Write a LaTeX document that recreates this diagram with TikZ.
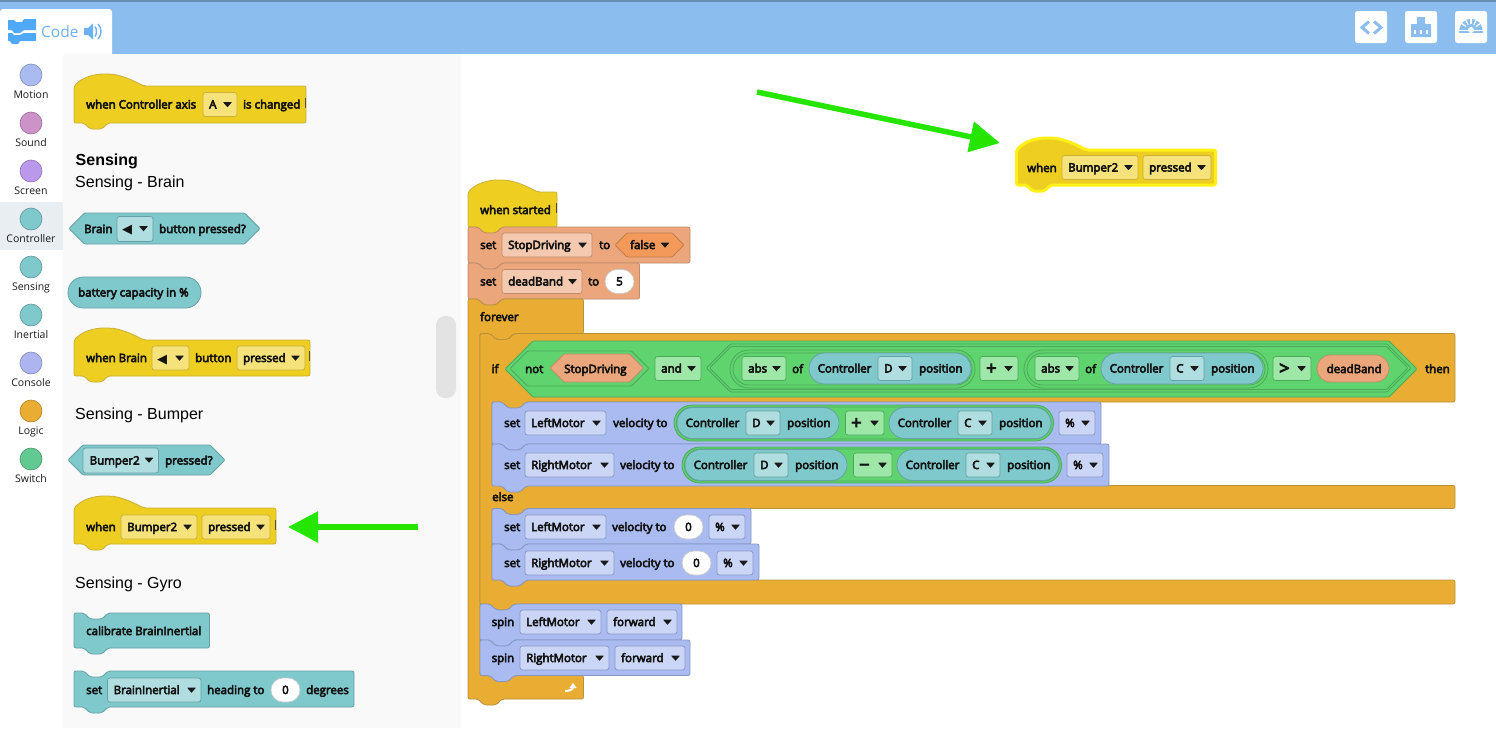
\documentclass[tikz,border=0pt]{standalone}
\usepackage{fontspec}
\setmainfont{Open Sans}
\newfontfamily\blockfont{Open Sans}[FakeBold=5]
\newfontfamily\headfont{Liberation Sans}
\newfontfamily\symfont{DejaVu Sans}
\usetikzlibrary{arrows.meta}

\definecolor{barblue}{HTML}{8BBDEF}
\definecolor{iconblue}{HTML}{4FA9F6}
\definecolor{codeblue}{HTML}{6CB0F5}
\definecolor{panelgray}{HTML}{F9F9F9}
\definecolor{selgray}{HTML}{E9EEF2}
\definecolor{arrowgreen}{HTML}{26E500}
\definecolor{glowyellow}{HTML}{FFF015}
\definecolor{yelfill}{HTML}{EDCE21}\definecolor{yelline}{HTML}{C9B03A}\definecolor{yelfield}{HTML}{F5E27B}
\definecolor{salfill}{HTML}{EBA67C}\definecolor{salline}{HTML}{BF8C6C}\definecolor{salfield}{HTML}{F4C9AF}
\definecolor{orgfill}{HTML}{F39A5B}\definecolor{orgline}{HTML}{C07D4C}
\definecolor{logfill}{HTML}{EAAD34}\definecolor{logline}{HTML}{B8913C}
\definecolor{blufill}{HTML}{A9BBF1}\definecolor{bluline}{HTML}{8797C4}\definecolor{blufield}{HTML}{CBD6F7}
\definecolor{teafill}{HTML}{7FC8CB}\definecolor{tealine}{HTML}{66A2A5}\definecolor{teafield}{HTML}{B0DDDF}
\definecolor{grefill}{HTML}{5FD46E}\definecolor{greline}{HTML}{4DA95A}\definecolor{grefield}{HTML}{9FE7A8}

\tikzset{
	block/.style={draw=#1line, fill=#1fill, line width=0.8pt, rounded corners=2pt},
	field/.style={draw=#1line, fill=#1field, line width=0.7pt, rounded corners=2.5pt},
	blocktext/.style={anchor=base west, inner sep=0pt, text=black!92, font=\blockfont\fontsize{11.5}{14}\selectfont},
	sidetext/.style={anchor=base, inner sep=0pt, text=black!90, font=\fontsize{10.5}{12}\selectfont},
	headtext/.style={anchor=base west, inner sep=0pt, text=black, font=\headfont\fontsize{16}{18}\selectfont},
	greenarrow/.style={draw=arrowgreen, line width=5.5pt, -{Triangle[length=30pt,width=30pt]}},
	iconbox/.style={fill=white, rounded corners=2.5pt},
}

\newcounter{lblno}
\newcommand{\lbl}[3]{\stepcounter{lblno}\node[blocktext] (lbl\arabic{lblno}) at (#1,#2+4) {#3};}
\newcommand{\notchR}[2]{-- (#1+10,#2) -- (#1+16,#2+6) -- (#1+28,#2+6) -- (#1+34,#2)}
\newcommand{\notchL}[2]{-- (#1+34,#2) -- (#1+28,#2+6) -- (#1+16,#2+6) -- (#1+10,#2)}
% x1,x2,y1,y2
\newcommand{\stack}[5]{\draw[block=#1] (#2,#4) \notchR{#2}{#4} -- (#3,#4) -- (#3,#5) \notchL{#2}{#5} -- (#2,#5) -- cycle;}
\newcommand{\hatblock}[5]{\draw[#1] (#2,#4) .. controls (#2+9,#4-9) and (#2+20,#4-12) .. (#2+32,#4-12)
	.. controls (#2+46,#4-12) and (#2+58,#4-6) .. (#2+70,#4) -- (#3,#4) -- (#3,#5) \notchL{#2}{#5} -- (#2,#5) -- cycle;}
\newcommand{\hatmark}[2]{\draw[black!70, line width=1pt] (#1,#2-5) -- (#1,#2+5);}
\newcommand{\ddarrow}[2]{\fill[black!90, rounded corners=0.4pt] (#1-4.4,#2-2.3) -- (#1+4.4,#2-2.3) -- (#1,#2+2.8) -- cycle;}
\newcommand{\dd}[5]{\draw[field=#1] (#2,#4-12) rectangle (#3,#4+12);
	\lbl{#2+6}{#4}{#5}\ddarrow{#3-9.5}{#4}}
\newcommand{\pill}[5]{\pgfmathsetmacro{\pillr}{((#5)-(#4))/2}
	\draw[block=#1, rounded corners=\pillr pt] (#2,#4) rectangle (#3,#5);}
\newcommand{\hexa}[5]{\pgfmathsetmacro{\hexh}{((#5)-(#4))/2}
	\draw[block=#1, rounded corners=1pt] (#2,#4+\hexh) -- (#2+\hexh,#4) -- (#3-\hexh,#4) -- (#3,#4+\hexh) -- (#3-\hexh,#5) -- (#2+\hexh,#5) -- cycle;}
\newcommand{\numoval}[4]{\draw[draw=black!20, fill=white, line width=0.7pt, rounded corners=12pt] (#1,#3-12) rectangle (#2,#3+12);
	\lbl{#1+11}{#3}{#4}}
\newcommand{\controller}[3]{% x of pill, centre y, axis letter
	\pill{tea}{#1}{#1+162}{#2-15.5}{#2+15.5}
	\lbl{#1+8.5}{#2}{Controller}
	\dd{tea}{#1+69}{#1+103}{#2}{#3}
	\lbl{#1+110}{#2}{position}}

\begin{document}
\begin{tikzpicture}[x=1pt,y=-1pt]
	\useasboundingbox (0,0) rectangle (1496,728);
	\fill[white] (0,0) rectangle (1496,728);
	% top bar
	\fill[barblue] (0,0) rectangle (1496,54);
	\fill[barblue!75!black] (0,0) rectangle (1496,1.5);
	\fill[white, rounded corners=3pt] (0,60) -- (0,9) -- (112,9) -- (112,60) -- cycle;
	\fill[iconblue, rounded corners=0.6pt] (8,20) -- (14,20) -- (16,22) -- (22,22) -- (24,19) -- (36,19) -- (36,30) -- (24,30) -- (20,33) -- (14,33) -- (12,30) -- (8,30) -- cycle;
	\fill[iconblue, rounded corners=0.6pt] (8,33) -- (12,33) -- (14,35) -- (20,35) -- (24,33) -- (36,33) -- (36,41) -- (20,41) -- (18,44) -- (12,44) -- (10,41) -- (8,41) -- cycle;
	\node[anchor=base west, inner sep=0pt, text=codeblue, font=\fontsize{15.5}{18}\selectfont] (codetab) at (41,37) {Code};
	\fill[codeblue] (84,28) -- (88,28) -- (93,23.5) -- (93,39.5) -- (88,35) -- (84,35) -- cycle;
	\draw[codeblue, line width=1.4pt] (95,26.5) .. controls (97,29) and (97,34) .. (95,36.5);
	\draw[codeblue, line width=1.4pt] (98,24) .. controls (102,28) and (102,35) .. (98,39);
	\fill[iconbox] (1355,11) rectangle (1387,43);
	\fill[iconbox] (1405,11) rectangle (1437,43);
	\fill[iconbox] (1455,11) rectangle (1487,43);
	\draw[barblue, line width=3pt] (1369,21.5) -- (1362,27.5) -- (1369,33.5);
	\draw[barblue, line width=3pt] (1374,21.5) -- (1381,27.5) -- (1374,33.5);
	\fill[barblue, rounded corners=0.5pt] (1411,24) -- (1417,24) -- (1417,17) -- (1425,17) -- (1425,24) -- (1431,24) -- (1431,37) -- (1411,37) -- cycle;
	\foreach \x in {1415,1421,1427}
		\fill[white] (\x-1,30) rectangle (\x+1,34);
	\fill[barblue] (1459,33) .. controls (1459,14) and (1483,14) .. (1483,33) -- cycle;
	\foreach \a in {35,62,90,118,145}
		\draw[white, line width=1.2pt] (1471+6*cos \a,30-6*sin \a) -- (1471+14*cos \a,30-14*sin \a);
	\fill[white] (1457,30) rectangle (1485,31);
	\fill[white] (1471,30) circle (3pt);

	% side list and palette
	\fill[panelgray] (63,54) rectangle (461,728);
	\fill[white] (0,54) rectangle (63,728);
	\fill[selgray] (0,202) rectangle (63,250);
	\fill[black!11, rounded corners=9pt] (436,316) rectangle (456,398);
	\foreach \name/\col [count=\i from 0] in {Motion/A9BBF1,Sound/CB93C8,Screen/BA99EC,Controller/7FC8CB,Sensing/7FC8CB,Inertial/7FC8CB,Console/ADB5F0,Logic/EAAD34,Switch/63C993}{
		\definecolor{catcol}{HTML}{\col}
		\draw[fill=catcol, draw=catcol!75!black, line width=0.6pt] (31,75+48*\i) circle (11pt);
		\node[sidetext] (cat\i) at (31,98+48*\i) {\name};
	}

	\hatblock{block=yel}{74}{306}{86}{123}
	\lbl{86}{104.5}{when Controller axis}
	\dd{yel}{203}{237}{104.5}{A}
	\lbl{243}{104.5}{is changed}
	\hatmark{305.5}{103}
	\node[headtext, font=\headfont\bfseries\fontsize{16}{18}\selectfont] (headsensing) at (75.5,165.5) {Sensing};
	\node[headtext] (headbrain) at (75,187) {Sensing - Brain};

	\hexa{tea}{69}{260}{213}{244}
	\lbl{84}{229}{Brain}
	\draw[field=tea] (117,216.5) rectangle (153,241.5);
	\node[blocktext, font=\symfont\fontsize{13}{14}\selectfont] (brainleft) at (122,233.5) {◀};
	\ddarrow{143.5}{228.5}
	\lbl{159}{229}{button pressed?}

	\pill{tea}{68}{201}{277}{308}
	\lbl{78}{292.5}{battery capacity in \%}

	\hatblock{block=yel}{74}{310}{340}{376}
	\lbl{86}{358}{when Brain}
	\draw[field=yel] (152,346) rectangle (189,370);
	\node[blocktext, font=\symfont\fontsize{13}{14}\selectfont] (whenleft) at (157,363) {◀};
	\ddarrow{179.5}{358}
	\lbl{195}{358}{button}
	\dd{yel}{237}{305}{358}{pressed}
	\hatmark{309.5}{356}
	\node[headtext] (headbumper) at (75,419) {Sensing - Bumper};

	\hexa{tea}{68}{225}{445}{475}
	\draw[field=tea] (83,448) rectangle (158.5,473);
	\lbl{89.5}{460.5}{Bumper2}
	\ddarrow{149}{460}
	\lbl{165}{460.5}{pressed?}

	\hatblock{block=yel}{74}{276}{508}{544}
	\lbl{86}{527}{when}
	\dd{yel}{121}{197}{527}{Bumper2}
	\dd{yel}{202}{270}{527}{pressed}
	\hatmark{275.5}{525}
	\node[headtext] (headgyro) at (75,588) {Sensing - Gyro};

	\stack{tea}{74}{209.5}{613}{648}
	\lbl{86}{631}{calibrate BrainInertial}
	\stack{tea}{74}{354}{671}{707}
	\lbl{86}{690}{set}
	\dd{tea}{107.5}{201}{690}{BrainInertial}
	\lbl{207}{690}{heading to}
	\numoval{271}{300}{690}{0}
	\lbl{306}{690}{degrees}

	% the copy on the workspace
	\hatblock{draw=glowyellow, fill=yelfill, line width=3pt, rounded corners=2pt}{1016.5}{1215.5}{150}{185}
	\lbl{1027}{168}{when}
	\dd{yel}{1062}{1138}{167.5}{Bumper2}
	\dd{yel}{1143}{1211}{167.5}{pressed}

	% program
	\hatblock{block=yel}{468}{557}{192}{227}
	\lbl{480}{210}{when started}
	\hatmark{556.5}{208}
	\stack{sal}{468}{690}{227}{263}
	\lbl{480}{245}{set}
	\dd{sal}{502}{592}{245}{StopDriving}
	\lbl{599}{245}{to}
	\hexa{org}{615}{684}{233}{257}
	\lbl{630}{245}{false}
	\ddarrow{665}{245}
	\stack{sal}{468}{639.5}{263}{299}
	\lbl{480}{281.5}{set}
	\dd{sal}{502}{582}{281.5}{deadBand}
	\lbl{588}{281.5}{to}
	\numoval{605}{634}{281.5}{5}

	\draw[block=log] (468,299) \notchR{468}{299} -- (583.5,299) -- (583.5,333.5) \notchL{480}{333.5} -- (480,333.5) -- (480,675.5)
		\notchR{480}{675.5} -- (583.5,675.5) -- (583.5,699) \notchL{468}{699} -- (468,699) -- cycle;
	\lbl{480}{317}{forever}
	\draw[white, line width=2pt, -{Triangle[length=5pt,width=7pt]}] (565,691) .. controls (570,691) and (573,689) .. (573,683);

	\draw[block=log] (480,333.5) \notchR{480}{333.5} -- (1455,333.5) -- (1455,402) \notchL{492}{402} -- (492,402) -- (492,485.5)
		\notchR{492}{485.5} -- (1455,485.5) -- (1455,508.5) \notchL{492}{508.5} -- (492,508.5) -- (492,580)
		\notchR{492}{580} -- (1455,580) -- (1455,604) \notchL{480}{604} -- (480,604) -- cycle;
	\lbl{491.5}{369}{if}
	\lbl{492}{497}{else}
	\lbl{1425}{369}{then}

	\hexa{gre}{505}{1417}{341}{397}
	\hexa{gre}{510}{649}{351}{386}
	\lbl{525}{369}{not}
	\hexa{sal}{550}{643.5}{354}{382}
	\lbl{564}{369}{StopDriving}
	\dd{gre}{655}{701}{368.5}{and}
	\hexa{gre}{706.5}{1411}{344}{392}
	\hexa{gre}{709.5}{1408}{346.5}{389.5}

	\pill{gre}{730}{975}{350}{388}
	\pill{gre}{733}{972}{353}{385}
	\dd{gre}{742}{786}{368.5}{abs}
	\lbl{792}{369}{of}
	\controller{809}{368.5}{D}
	\draw[field=gre] (980,356.5) rectangle (1018,380.5);
	\node[blocktext, font=\blockfont\fontsize{18}{18}\selectfont] (plustop) at (986,374.5) {+};
	\ddarrow{1008.5}{368.5}
	\pill{gre}{1024}{1268}{350}{388}
	\pill{gre}{1027}{1265}{353}{385}
	\dd{gre}{1035}{1079}{368.5}{abs}
	\lbl{1085}{369}{of}
	\controller{1101}{368.5}{C}
	\dd{gre}{1273}{1311}{368.5}{}
	\node[blocktext, font=\blockfont\fontsize{18}{18}\selectfont] (gtsign) at (1279,374.5) {>};
	\pill{sal}{1317}{1389}{355}{382}
	\lbl{1326.5}{369}{deadBand}

	% driving on
	\stack{blu}{492}{1101}{402}{444}
	\lbl{504}{423}{set}
	\dd{blu}{525}{606}{423}{LeftMotor}
	\lbl{613}{423}{velocity to}
	\pill{gre}{674}{1053.5}{405}{441}
	\pill{gre}{676.5}{1051}{407}{439}
	\controller{677}{423}{D}
	\dd{gre}{845.5}{884}{423}{}
	\node[blocktext, font=\blockfont\fontsize{18}{18}\selectfont] (plusleft) at (851,429) {+};
	\controller{889}{423}{C}
	\dd{blu}{1059}{1095}{423}{\%}

	\stack{blu}{492}{1109}{444}{486}
	\lbl{504}{465}{set}
	\dd{blu}{525}{614}{465}{RightMotor}
	\lbl{620}{465}{velocity to}
	\pill{gre}{682}{1061.5}{447}{483}
	\pill{gre}{684.5}{1059}{449}{481}
	\controller{685}{465}{D}
	\dd{gre}{853.5}{892}{465}{}
	\node[blocktext, font=\blockfont\fontsize{18}{18}\selectfont] (minusright) at (859,471) {−};
	\controller{897}{465}{C}
	\dd{blu}{1067}{1103}{465}{\%}

	% stopped
	\stack{blu}{492}{751}{508.5}{544}
	\lbl{504}{527}{set}
	\dd{blu}{525}{606}{527}{LeftMotor}
	\lbl{612}{527}{velocity to}
	\numoval{674}{703}{527}{0}
	\dd{blu}{709}{745}{527}{\%}
	\stack{blu}{492}{759}{544}{580}
	\lbl{504}{563}{set}
	\dd{blu}{525}{614}{563}{RightMotor}
	\lbl{620}{563}{velocity to}
	\numoval{682}{711}{563}{0}
	\dd{blu}{717}{753}{563}{\%}

	\stack{blu}{480}{682}{604}{640}
	\lbl{491.5}{622}{spin}
	\dd{blu}{520}{601}{622}{LeftMotor}
	\dd{blu}{607}{677}{622}{forward}
	\stack{blu}{480}{690}{640}{675.5}
	\lbl{491.5}{658}{spin}
	\dd{blu}{520}{609}{658}{RightMotor}
	\dd{blu}{615}{685}{658}{forward}

	% green arrows
	\coordinate (panelTail) at (417.5,527);
	\coordinate (panelTip) at (288,527);
	\coordinate (workTail) at (757,92);
	\coordinate (workTip) at (1000,143);
	\draw[greenarrow] (panelTail) -- (panelTip);
	\draw[greenarrow] (workTail) -- (workTip);
\end{tikzpicture}
\end{document}
